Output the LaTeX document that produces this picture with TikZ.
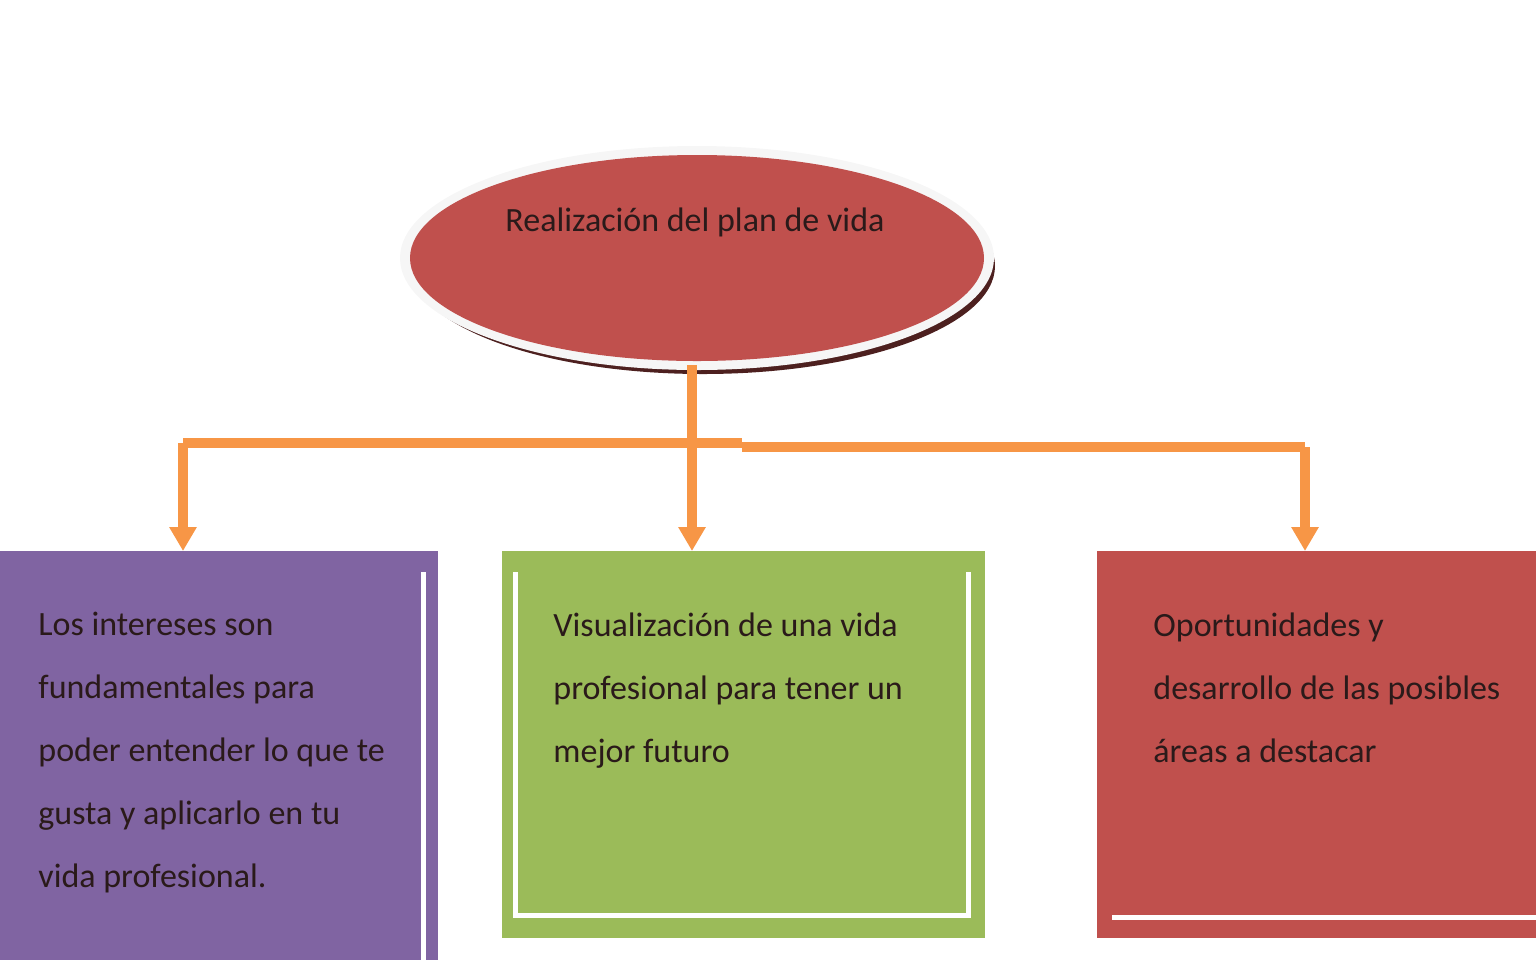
\documentclass[tikz,border=0pt]{standalone}
\usepackage{fontspec}
\setmainfont{Carlito}
\usetikzlibrary{arrows.meta,shapes.geometric}
\definecolor{cred}{HTML}{C0504D}
\definecolor{cpur}{HTML}{8064A2}
\definecolor{cgrn}{HTML}{9BBB59}
\definecolor{corg}{HTML}{F79646}
\definecolor{ctxt}{HTML}{2A1A1A}
\tikzset{
  conn/.style={corg,line width=5pt},
  arr/.style={conn,-{Triangle[width=13pt,length=12pt]}},
  boxtext/.style={anchor=north west,align=left,text=ctxt,font=\fontsize{17}{31.5}\selectfont,inner sep=0pt},
  inner/.style={white,line width=2.5pt}
}
\begin{document}
\begin{tikzpicture}[x=0.5pt,y=-0.5pt]
\useasboundingbox (0,0) rectangle (1536,960);
% ellipse with shadow
\fill[black!60!cred] (703,266) ellipse [x radius=292,y radius=108];
\fill[white!93!gray] (697,258) ellipse [x radius=297,y radius=112];
\node[ellipse,fill=cred,minimum width=287pt,minimum height=103pt,inner sep=0pt] (top) at (697,258) {};
\node[text=ctxt,font=\fontsize{17}{20}\selectfont] (toptext) at (695,222) {Realización del plan de vida};
% boxes
\fill[cpur] (0,551) rectangle (438,960);
\draw[inner] (423,572) -- (423,960);
\fill[cgrn] (502,551) rectangle (985,938);
\draw[inner] (515,572) -- (515,915) -- (968,915) -- (968,572);
\fill[cred] (1097,551) rectangle (1536,938);
\draw[inner] (1112,917) -- (1536,917);
\coordinate (b1) at (183,551);
\coordinate (b2) at (692,551);
\coordinate (b3) at (1305,551);
\coordinate (j2) at (742,447);
\node[boxtext] (t1) at (38,612) {Los intereses son\\fundamentales para\\poder entender lo que te\\gusta y aplicarlo en tu\\vida profesional.};
\node[boxtext] (t2) at (553,612) {Visualización de una vida\\profesional para tener un\\mejor futuro};
\node[boxtext] (t3) at (1153,612) {Oportunidades y\\desarrollo de las posibles\\áreas a destacar};
% connectors
\draw[arr] (692,365) -- (b2);
\draw[conn] (742,443) -- (183,443);
\draw[arr] (183,443) -- (b1);
\draw[conn] (j2) -- (1305,447);
\draw[arr] (1305,447) -- (b3);
\end{tikzpicture}
\end{document}
